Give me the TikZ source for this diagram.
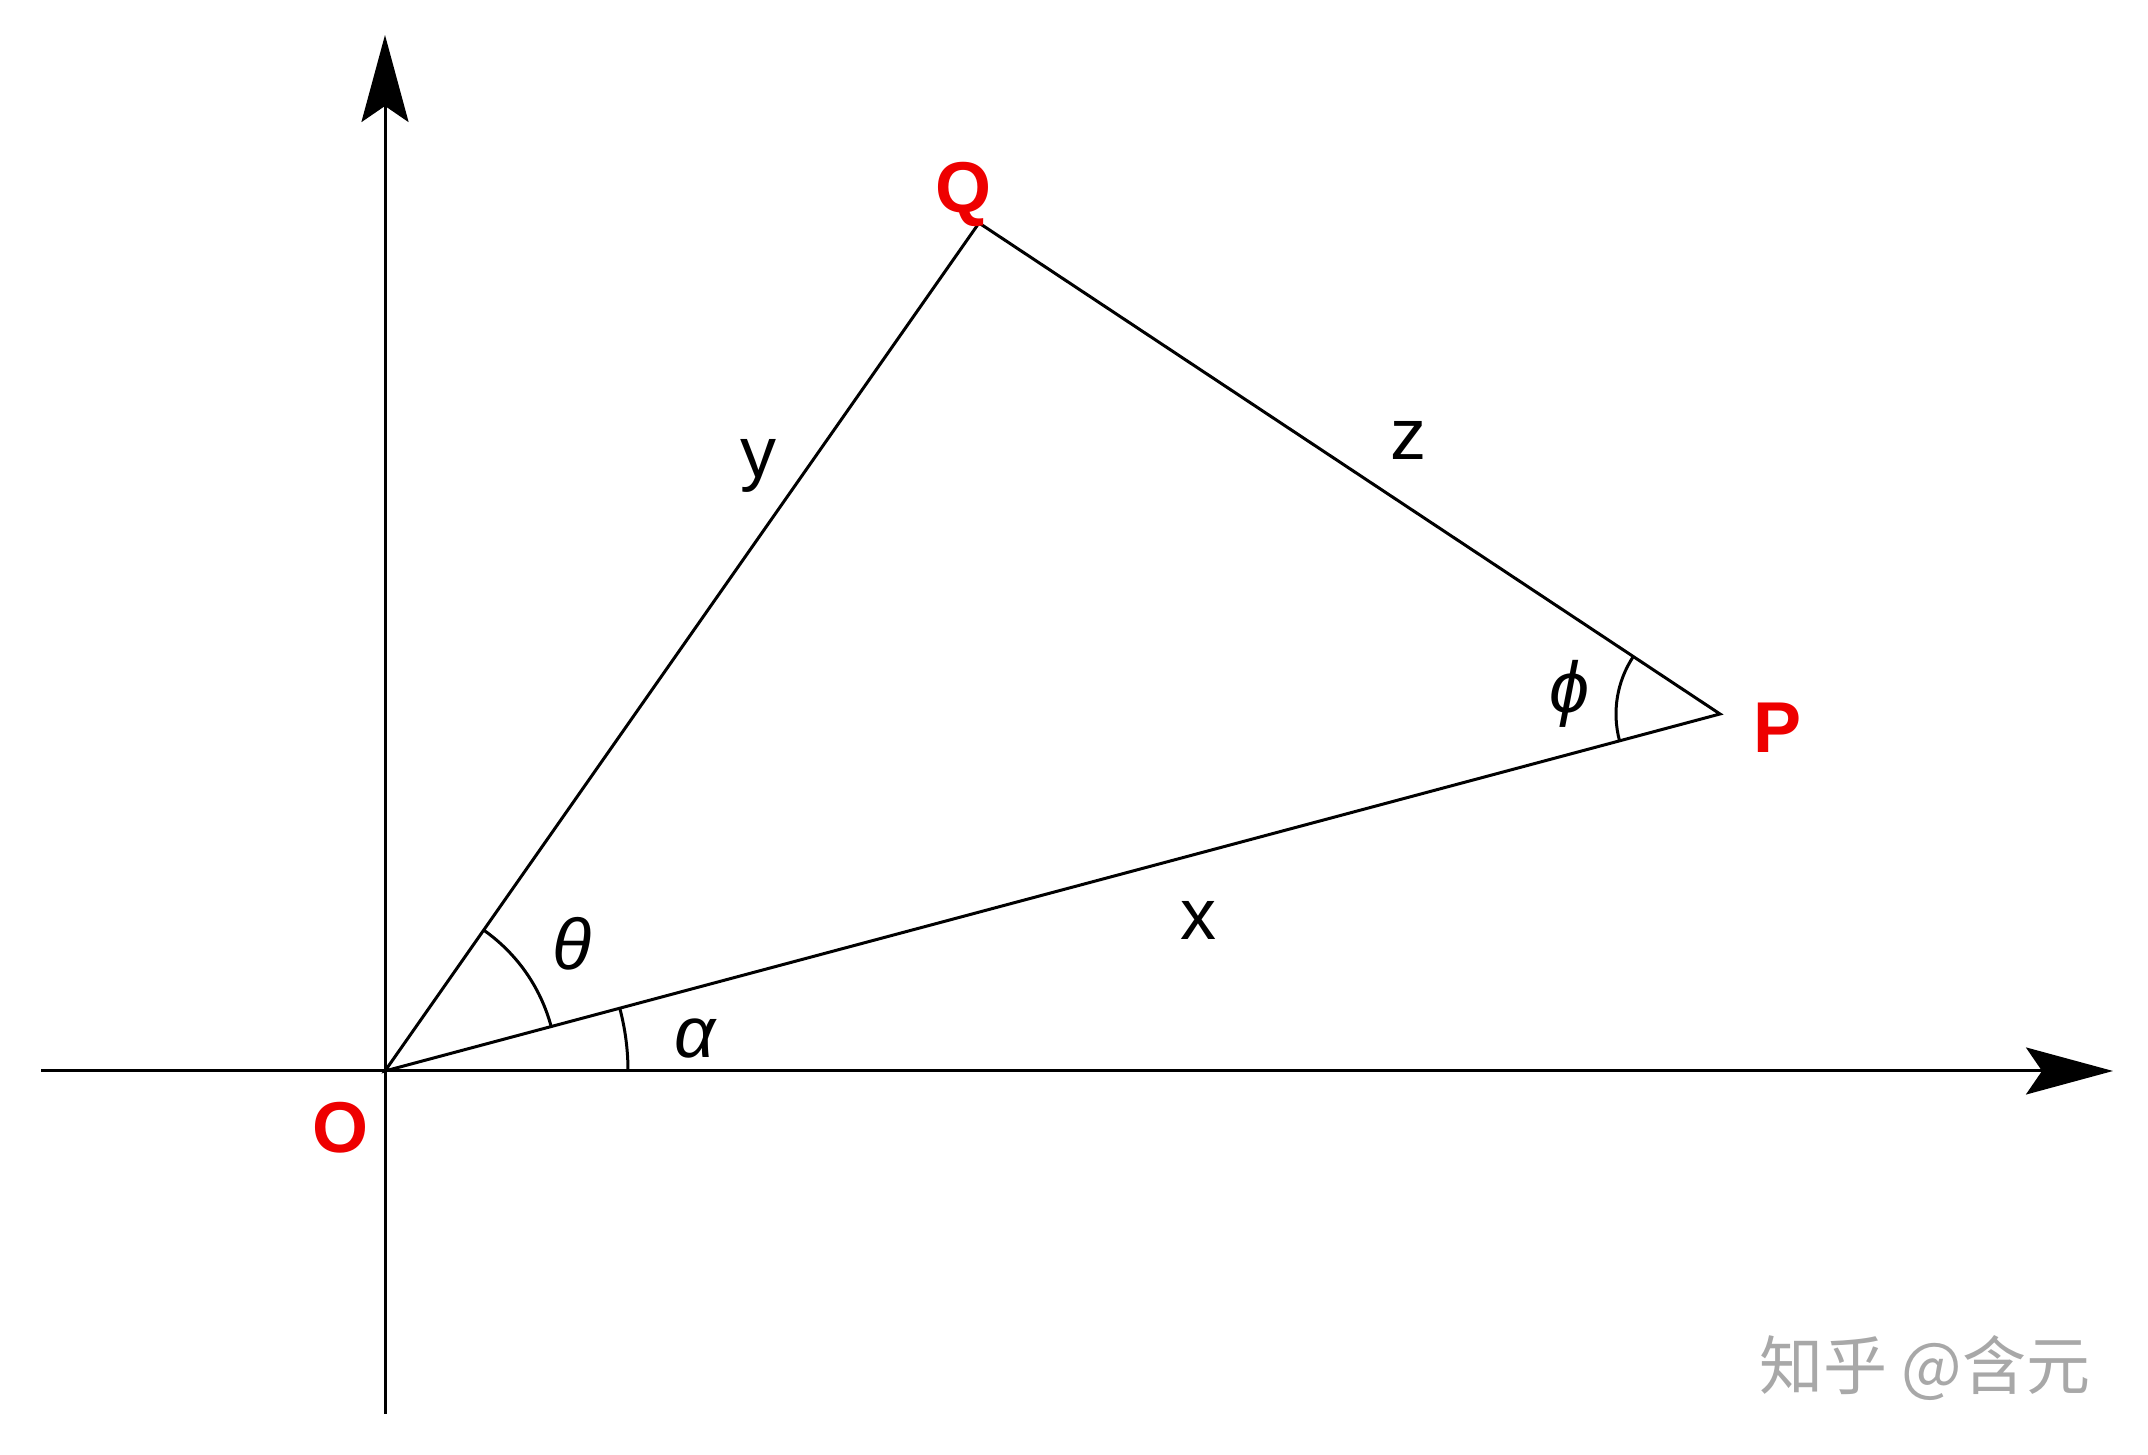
\documentclass[tikz,border=0pt]{standalone}
\usepackage{fontspec}
\setmainfont{Liberation Sans}
\newfontfamily\cjk{Noto Sans CJK SC}
\usetikzlibrary{arrows.meta}
\definecolor{ptred}{RGB}{238,0,0}
\definecolor{wmgray}{RGB}{168,168,168}
\begin{document}
\begin{tikzpicture}[x=1pt,y=1pt,
  line/.style={line width=3pt},
  axis/.style={line width=3pt,-{Stealth[length=87pt,width=47pt,inset=16pt]}},
  anglearc/.style={line width=3pt},
  ptlabel/.style={text=ptred,font=\fontsize{72}{86}\selectfont\bfseries,anchor=base,inner sep=0pt},
  sidelabel/.style={font=\fontsize{72}{86}\selectfont,anchor=base,inner sep=0pt},
  anglelabel/.style={font=\fontsize{72}{86}\selectfont\itshape,anchor=base,inner sep=0pt},
  wm/.style={text=wmgray,font=\cjk\fontsize{64}{70}\selectfont,inner sep=0pt}]
\useasboundingbox (0,0) rectangle (2148,1455);
\coordinate (O) at (385,384);
\coordinate (Q) at (979,1232);
\coordinate (P) at (1720,741);
\coordinate (xl) at (41,384);
\coordinate (xr) at (2113,384);
\coordinate (yb) at (385,41);
\coordinate (yt) at (385,1420);
% axes
\draw[axis] (xl) -- (xr);
\draw[axis] (yb) -- (yt);
% triangle
\draw[line,line join=miter] (O) -- (Q) -- (P) -- cycle;
% angle arcs
\draw[anglearc] ([shift={(15:172pt)}]O) arc[start angle=15,end angle=55,radius=172pt];
\draw[anglearc] ([shift={(0:243pt)}]O) arc[start angle=0,end angle=15,radius=243pt];
\draw[anglearc] ([shift={(146.5:104pt)}]P) arc[start angle=146.5,end angle=195,radius=104pt];
% labels
\node[ptlabel] (lO) at (340,302) {O};
\node[ptlabel] (lP) at (1777,702) {P};
\node[ptlabel] (lQ) at (963,1242) {Q};
\node[sidelabel] (ly) at (758,977) {y};
\node[sidelabel] (lz) at (1408,995) {z};
\node[sidelabel] (lx) at (1198,515) {x};
\node[anglelabel] (ltheta) at (572,485) {θ};
\node[anglelabel] (lalpha) at (695,397) {α};
\node[anglelabel] (lphi) at (1570,742) {ϕ};
\node[wm] (wmark) at (1925,87) {知乎 @含元};
\end{tikzpicture}
\end{document}
